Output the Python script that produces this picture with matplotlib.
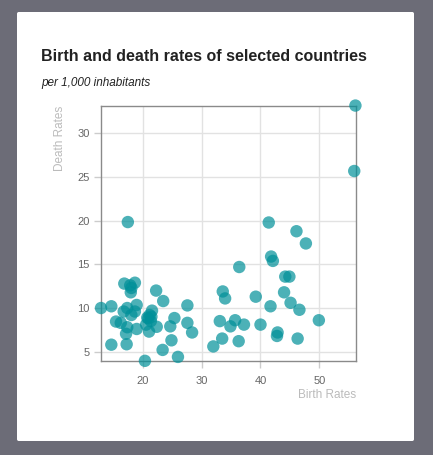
import matplotlib.pyplot as plt
from matplotlib.patches import FancyBboxPatch

plt.rcParams['font.family'] = ['Liberation Sans', 'DejaVu Sans']

birth_rates = [56.1, 55.9, 17.5, 41.4, 46.1, 47.7, 41.8, 42.1, 36.4, 44.2,
               44.9, 33.6, 34.0, 39.2, 44.0, 45.1, 46.6, 41.7, 33.1, 34.9,
               35.7, 37.2, 40.0, 49.9, 42.9, 42.8, 33.5, 36.3, 46.3, 32.0,
               12.95, 14.7, 16.9, 17.9, 18.7, 18.0, 22.3, 23.5, 27.6, 19.0,
               17.4, 18.7, 16.8, 18.1, 21.6, 25.4, 15.5, 16.3, 17.4, 20.6,
               22.4, 24.7, 27.6, 28.4, 19.0, 21.1, 17.2, 24.9, 23.4, 14.7,
               17.3, 20.4, 26.0, 21.2, 21.0, 21.4, 20.8, 21.5, 18.1]
death_rates = [33.2, 25.7, 19.85, 19.8, 18.8, 17.4, 15.9, 15.4, 14.7, 13.6,
               13.6, 11.9, 11.1, 11.3, 11.8, 10.6, 9.8, 10.2, 8.5, 7.9,
               8.6, 8.1, 8.1, 8.6, 7.2, 6.8, 6.5, 6.2, 6.5, 5.6,
               10.0, 10.2, 12.8, 12.6, 12.9, 11.8, 12.0, 10.8, 10.3, 10.35,
               10.0, 9.6, 9.6, 9.2, 9.7, 8.85, 8.45, 8.3, 7.8, 8.1,
               7.85, 7.9, 8.3, 7.2, 7.6, 7.3, 7.05, 6.3, 5.2, 5.8,
               5.85, 3.95, 4.4, 9.2, 8.8, 8.5, 8.9, 9.0, 12.3]

x_ticks = [20, 30, 40, 50]
y_ticks = [5, 10, 15, 20, 25, 30]

W, H = 433, 455
fig = plt.figure(figsize=(W / 100, H / 100), dpi=100)
fig.patch.set_facecolor('#6c6c77')

# white card behind everything
card = FancyBboxPatch((17 / W, 1 - 441 / H), 397 / W, 429 / H,
                      boxstyle='round,pad=0,rounding_size=0.004',
                      transform=fig.transFigure, facecolor='white',
                      edgecolor='none', zorder=-5)
fig.patches.append(card)

fig.text(41 / W, 1 - 61 / H, 'Birth and death rates of selected countries',
         fontsize=11.5, fontweight='bold', color='#222222')
fig.text(41 / W, 1 - 86 / H, 'per 1,000 inhabitants',
         fontsize=8.5, style='italic', color='#222222')

ax = fig.add_axes([101.3 / W, 1 - 361 / H, 255 / W, 255 / H])
ax.set_zorder(2)
ax.scatter(birth_rates, death_rates, s=80, color='#009099', alpha=0.7,
           edgecolors='none', zorder=3, clip_on=False)

ax.set_xlim(13.0, 56.25)
ax.set_ylim(3.93, 33.15)
ax.set_xticks(x_ticks)
ax.set_yticks(y_ticks)
ax.grid(True, color='#e2e2e2', linewidth=1)
ax.set_axisbelow(True)
for s in ax.spines.values():
    s.set_color('#8a8a8a')
    s.set_linewidth(1)
ax.tick_params(colors='#cccccc', length=5, width=1, labelcolor='#666666',
               labelsize=8)
ax.tick_params(axis='x', pad=6)

ax.set_xlabel('Birth Rates', color='#bbbbbb', fontsize=8.5, loc='right',
              labelpad=2)
ax.set_ylabel('Death Rates', color='#bbbbbb', fontsize=8.5, loc='top',
              labelpad=8)

fig.savefig('out.png', dpi=100, facecolor=fig.get_facecolor())
